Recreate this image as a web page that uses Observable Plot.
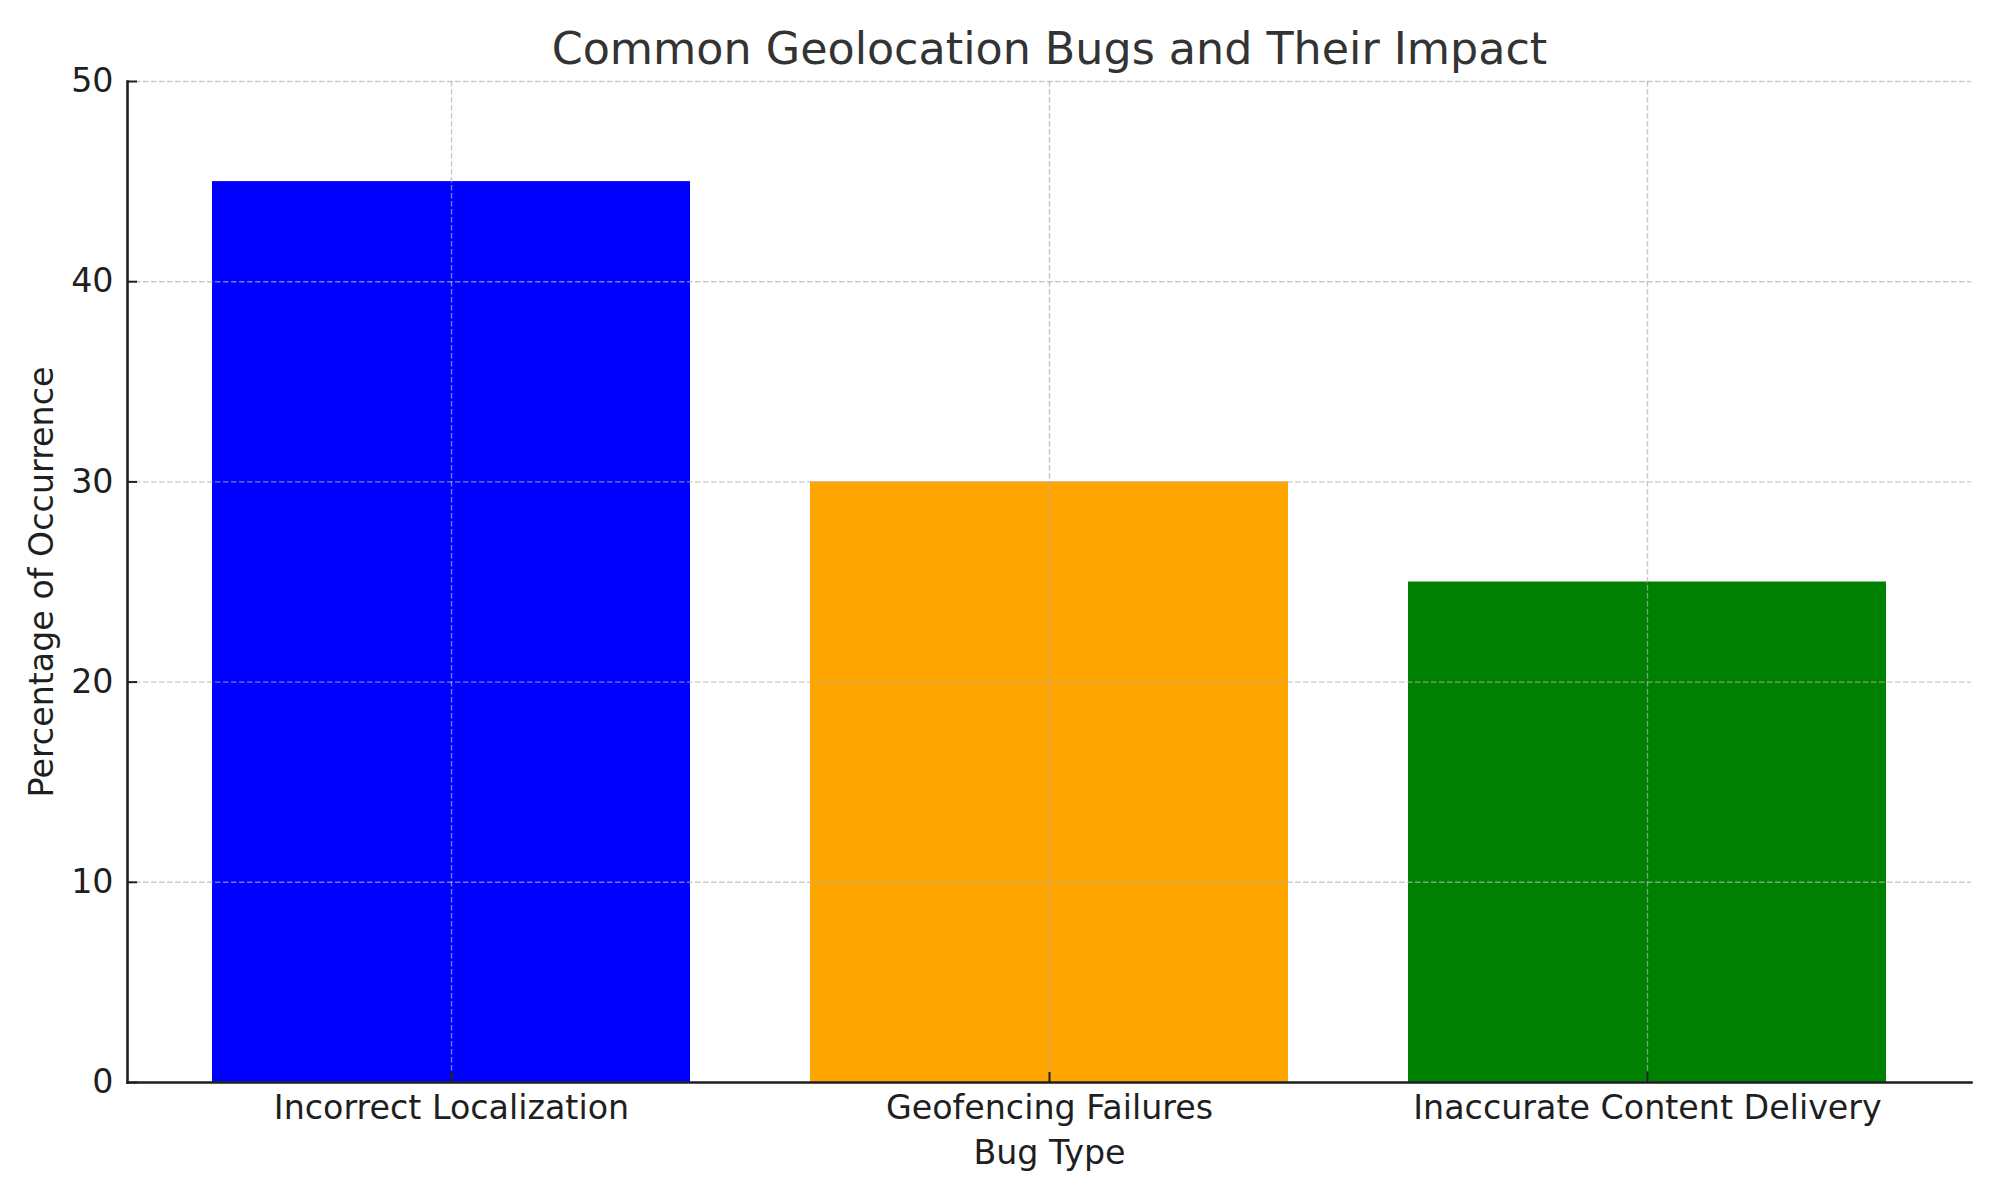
<!DOCTYPE html>
<html>
<head>
<meta charset="utf-8">
<script src="https://cdn.jsdelivr.net/npm/d3@7"></script>
<script src="https://cdn.jsdelivr.net/npm/@observablehq/plot@0.6"></script>
<style>
  html, body { margin: 0; padding: 0; background: #ffffff; }
  #chart svg { display: block; }
</style>
</head>
<body>
<div id="chart"></div>
<script>
// ---- data ----
const chartTitle = "Common Geolocation Bugs and Their Impact";
const xLabel = "Bug Type";
const yLabel = "Percentage of Occurrence";
const bugTypes = ["Incorrect Localization", "Geofencing Failures", "Inaccurate Content Delivery"];
const percentages = [45, 30, 25];
const barColors = ["blue", "orange", "green"];
const yTicks = [0, 10, 20, 30, 40, 50];

const rows = bugTypes.map((b, i) => ({type: b, value: percentages[i], color: barColors[i]}));

const font = "DejaVu Sans, Liberation Sans, sans-serif";
const axisColor = "#1f1f1f";

const chart = Plot.plot({
  width: 2000,
  height: 1200,
  marginLeft: 127,
  marginRight: 29,
  marginTop: 81,
  marginBottom: 118,
  style: {fontFamily: font, background: "#ffffff", color: axisColor},
  x: {type: "band", domain: bugTypes, paddingInner: 0.2, paddingOuter: 0.14, axis: null},
  y: {domain: [0, 50], axis: null},
  marks: [
    Plot.barY(rows, {x: "type", y: "value", fill: "color"}),
    Plot.gridY(yTicks, {stroke: "#b0b0b0", strokeOpacity: 0.7, strokeWidth: 1.4, strokeDasharray: "5.5,2.5"}),
    Plot.gridX(bugTypes, {stroke: "#b0b0b0", strokeOpacity: 0.7, strokeWidth: 1.4, strokeDasharray: "5.5,2.5"}),
    Plot.frame({anchor: "left", stroke: axisColor, strokeWidth: 2.6}),
    Plot.frame({anchor: "bottom", stroke: axisColor, strokeWidth: 2.6}),
    // inward tick marks
    Plot.axisY(yTicks, {tickSize: -10, text: null, stroke: axisColor, strokeWidth: 2, label: null}),
    Plot.axisX(bugTypes, {tickSize: -10, text: null, stroke: axisColor, strokeWidth: 2, label: null}),
    // tick labels
    Plot.axisY(yTicks, {tickSize: 0, tickPadding: 14, fontSize: 33.3, fill: axisColor, label: null}),
    Plot.axisX(bugTypes, {tickSize: 0, tickPadding: 13, fontSize: 33.3, fill: axisColor, label: null}),
    // axis labels
    Plot.text([xLabel], {frameAnchor: "bottom", lineAnchor: "top", dy: 58, fontSize: 33.3, fill: axisColor}),
    Plot.text([yLabel], {frameAnchor: "left", textAnchor: "middle", lineAnchor: "top", rotate: -90, dx: -98, fontSize: 33.3, fill: axisColor}),
    // title
    Plot.text([chartTitle], {frameAnchor: "top", lineAnchor: "top", dy: -49, fontSize: 44.4, fill: "#333333"})
  ]
});

document.getElementById("chart").appendChild(chart);
</script>
</body>
</html>
